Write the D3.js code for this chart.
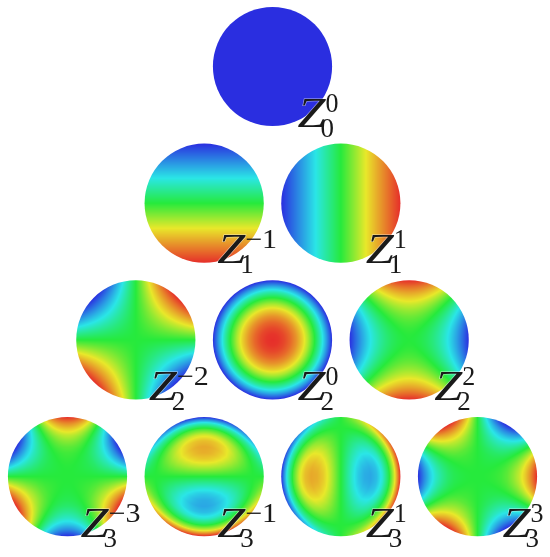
<!DOCTYPE HTML>
<html lang="en">

<head>
  <meta charset="utf-8">
  <title>Zernike</title>
  <script src="https://d3js.org/d3.v7.min.js"></script>
  <style>
    html, body { margin: 0; padding: 0; background: #fff; overflow: hidden; }
    #stage { position: relative; width: 550px; height: 557px; filter: blur(0.4px); }
    #stage canvas, #stage svg { position: absolute; left: 0; top: 0; }
  </style>
</head>

<body>
  <div id="stage"></div>

<script>
  // one entry per disc
  var orders = [0, 1, 1, 2, 2, 2, 3, 3, 3, 3];
  var freqs = [0, -1, 1, -2, 0, 2, -3, -1, 1, 3];
  // rotation of the pattern on screen (degrees, y pointing down)
  var phases = [0, -90, 0, 90, 0, 180, -90, -90, 0, 0];

  var radii = [0, .1, .2, .3, .4, .5, .6, .7, .8, .9, 1];
  var profile00 = [-1, -1, -1, -1, -1, -1, -1, -1, -1, -1, -1];
  var profile11 = [0, .1, .2, .3, .4, .5, .6, .7, .8, .9, 1];
  var profile20 = [1, .98, .92, .82, .68, .5, .28, .02, -.28, -.62, -1];
  var profile22 = [0, .01, .04, .09, .16, .25, .36, .49, .64, .81, 1];
  var profile31 = [0, -.2, -.38, -.52, -.6, -.62, -.55, -.37, -.06, .38, 1];
  var profile33 = [0, 0, .01, .03, .06, .12, .22, .34, .51, .73, 1];
  var profiles = [profile00, profile11, profile11, profile22, profile20, profile22,
                  profile33, profile31, profile31, profile33];

  var colorValues = [-1, -.42, 0, .42, 1];
  var colorList = ["#2a2ee0", "#2ae6e6", "#26ea3c", "#e8e82a", "#e62e2a"];

  var width = 550, height = 557, discR = 59.6;

  var xPos = d3.scaleLinear().domain([-3, 3]).range([67.5, 477.5]);
  var yPos = d3.scaleLinear().domain([0, 3]).range([66.5, 476.6]);
  var color = d3.scaleLinear().domain(colorValues).range(colorList).interpolate(d3.interpolateRgb).clamp(true);

  var canvas = d3.select("#stage").append("canvas").attr("width", width).attr("height", height);
  var svg = d3.select("#stage").append("svg").attr("width", width).attr("height", height);
  var ctx = canvas.node().getContext("2d");

  orders.forEach(function(n, i) {
    var m = freqs[i];
    var cx = xPos(m), cy = yPos(n);
    var u = d3.scaleLinear().domain([cx - discR, cx + discR]).range([-1, 1]);
    var v = d3.scaleLinear().domain([cy - discR, cy + discR]).range([-1, 1]);
    var radial = d3.scaleLinear().domain(radii).range(profiles[i]).clamp(true);
    var phase = phases[i] * Math.PI / 180;

    ctx.save();
    ctx.beginPath();
    ctx.arc(cx, cy, discR, 0, 2 * Math.PI);
    ctx.clip();
    for (var py = Math.floor(cy - discR) - 1; py < cy + discR + 1; py++) {
      for (var px = Math.floor(cx - discR) - 1; px < cx + discR + 1; px++) {
        var a = u(px + .5), b = v(py + .5);
        var val = radial(Math.hypot(a, b)) * Math.cos(Math.abs(m) * Math.atan2(b, a) + phase);
        ctx.fillStyle = color(val);
        ctx.fillRect(px, py, 1, 1);
      }
    }
    ctx.restore();

    // labels
    var left = cx + (m < 0 ? 13 : 25);
    var g = svg.append("g");
    g.append("text").attr("x", left).attr("y", cy + 60)
      .attr("font-family", "Liberation Serif").attr("font-style", "italic")
      .attr("font-size", 43).attr("textLength", 28).attr("lengthAdjust", "spacingAndGlyphs")
      .attr("fill", "#1a1a1a").attr("stroke", "#fff").attr("stroke-width", 1).attr("stroke-opacity", .6)
      .attr("paint-order", "stroke").text("Z");
    g.append("text").attr("x", left + 28).attr("y", cy + 45)
      .attr("font-family", "Liberation Serif").attr("font-size", 27).attr("fill", "#1a1a1a")
      .attr("textLength", m < 0 ? 32 : 13).attr("lengthAdjust", "spacingAndGlyphs")
      .text(m < 0 ? "\u2212" + (-m) : m);
    g.append("text").attr("x", left + 23).attr("y", cy + 70)
      .attr("font-family", "Liberation Serif").attr("font-size", 27).attr("fill", "#1a1a1a")
      .text(n);
  });
</script>
</body>
</html>
